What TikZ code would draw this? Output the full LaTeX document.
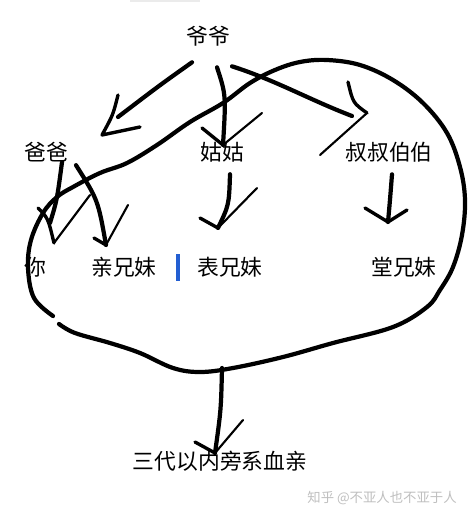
\documentclass[tikz,border=0pt]{standalone}
\usepackage{fontspec}
\setmainfont{Noto Sans CJK SC}
\usepackage{tikz}
\usetikzlibrary{calc}

\begin{document}
\begin{tikzpicture}[x=0.025cm, y=-0.025cm,
		lbl/.style={font=\fontsize{15.5}{18}\selectfont, inner sep=0pt},
		hand/.style={line width=3pt, line cap=round, line join=round},
		tip/.style={line width=2.4pt, line cap=round, line join=round},
		thintip/.style={line width=1.5pt, line cap=round}]
	\useasboundingbox (0,0) rectangle (474,518);
	\fill[white] (0,0) rectangle (474,518);
	\fill[black!8] (130,0) rectangle (200,2.5);

	% Names
	\node[lbl] (yeye) at (208,36) {爷爷};
	\node[lbl] (baba) at (46,152) {爸爸};
	\node[lbl] (gugu) at (222,152) {姑姑};
	\node[lbl] (shubo) at (389,152) {叔叔伯伯};
	\node[lbl] (ni) at (35,267) {你};
	\node[lbl] (qin) at (124,267) {亲兄妹};
	\node[lbl] (biao) at (230,267) {表兄妹};
	\node[lbl] (tang) at (404,267) {堂兄妹};
	\node[lbl] (sandai) at (220,461) {三代以内旁系血亲};
	\node[font=\fontsize{9.5}{11}\selectfont, text=black!25] (mark) at (382,498) {知乎 @不亚人也不亚于人};

	% Divider
	\draw[line width=2.2pt, color={rgb,255:red,35;green,95;blue,210}] (178,254) -- (178,281);

	% Arrow tips
	\coordinate (tBaba) at (102,135);
	\coordinate (tGugu) at (223,145);
	\coordinate (tShubo) at (367,113);
	\coordinate (tNi) at (54,243);
	\coordinate (tQin) at (106,245);
	\coordinate (tBiao) at (218,228);
	\coordinate (tTang) at (388,222);
	\coordinate (tSan) at (215,453);
	\coordinate (loopBot) at (222,368);

	% Grandpa to his children
	\draw[hand] ($(yeye.south)+(-16,16)$) .. controls (160,85) .. ($(tBaba)+(16,-18)$);
	\draw[tip] ($(tBaba)+(16,-40)$) .. controls ($(tBaba)+(11,-20)$) .. (tBaba) -- ($(tBaba)+(38,-8)$);
	\draw[hand] ($(yeye.south)+(9,21)$) .. controls (226,95) .. (tGugu);
	\draw[tip] ($(tGugu)+(-21,-17)$) -- (tGugu);
	\draw[thintip] (tGugu) -- ($(tGugu)+(39,-32)$);
	\draw[hand] ($(yeye.south)+(24,20)$) .. controls (275,80) and (310,100) .. (352,116);
	\draw[tip] ($(tShubo)+(-19,-31)$) .. controls ($(tShubo)+(-14,-10)$) .. (tShubo);
	\draw[thintip] (tShubo) -- ($(tShubo)+(-47,42)$);

	% Children to grandchildren
	\draw[hand] ($(baba.south)+(16,0)$) .. controls (57,200) .. ($(tNi)+(-4,-20)$);
	\draw[tip] ($(tNi)+(-16,-35)$) .. controls ($(tNi)+(-6,-25)$) .. (tNi);
	\draw[thintip] (tNi) -- ($(tNi)+(36,-48)$);
	\draw[hand] ($(baba.south)+(30,3)$) .. controls (98,200) .. (tQin);
	\draw[tip] ($(tQin)+(-12,-7)$) -- (tQin);
	\draw[thintip] (tQin) -- ($(tQin)+(22,-40)$);
	\draw[hand] ($(gugu.south)+(8,12)$) .. controls (229,205) .. (tBiao);
	\draw[tip] ($(tBiao)+(-18,-10)$) -- (tBiao);
	\draw[thintip] (tBiao) -- ($(tBiao)+(39,-40)$);
	\draw[hand] ($(shubo.south)+(3,12)$) .. controls (390,200) .. (tTang);
	\draw[tip] ($(tTang)+(-23,-14)$) -- (tTang) -- ($(tTang)+(19,-12)$);

	% The loop round the cousins
	\draw[hand] plot[smooth, tension=0.6] coordinates {(53,316) (34,298) (28,268) (31,240) (43,213) (57,197) (73,187) (100,173) (127,163) (157,145) (190,122) (223,103) (250,83) (275,70) (300,62) (327,60) (360,65) (393,80) (423,103) (447,133) (460,167) (465,200) (462,235) (453,267) (440,290) (427,307) (393,327) (333,343) (283,357) (233,368) (200,372) (173,368) (140,353) (110,343) (75,333) (59,324)};
	\draw[hand] (loopBot) .. controls (221,410) .. (tSan);
	\draw[tip] ($(tSan)+(-20,-11)$) -- (tSan);
	\draw[thintip] (tSan) -- ($(tSan)+(28,-33)$);
\end{tikzpicture}
\end{document}
